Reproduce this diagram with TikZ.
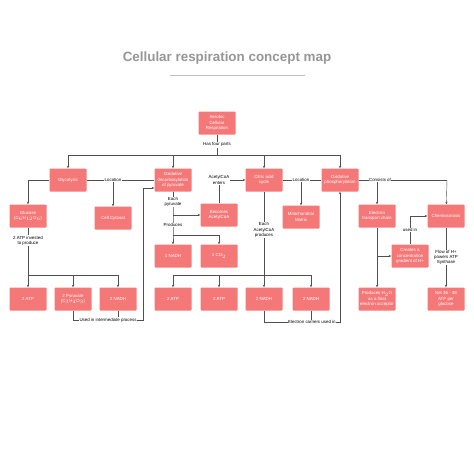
\documentclass[tikz,border=0pt]{standalone}
\usepackage{fontspec}
\setmainfont{Liberation Sans}
\usetikzlibrary{arrows.meta}
\definecolor{boxred}{RGB}{244,120,120}
\definecolor{linegray}{RGB}{80,80,80}
\definecolor{titlegray}{RGB}{150,150,150}
\tikzset{
  concept/.style={fill=boxred, text=white, minimum width=37pt, minimum height=23pt, inner sep=0.5pt,
    align=center, rounded corners=0.8pt, font=\fontsize{4.4}{5.2}\selectfont},
  lbl/.style={fill=white, inner sep=0.6pt, align=center, font=\fontsize{4.4}{5.2}\selectfont},
  link/.style={draw=linegray, line width=0.4pt},
  >={Stealth[length=2.6pt,width=2.2pt]}
}
\begin{document}
\begin{tikzpicture}[x=1pt,y=-1pt]
			\useasboundingbox (0,0) rectangle (474,474);
			\node[text=titlegray, font=\bfseries\fontsize{13.4}{15}\selectfont] (title) at (227,58) {Cellular respiration concept map};
			\draw[draw=titlegray!60, line width=0.6pt] (170,75) -- (305,75);
			\node[concept] (root) at (217,123) {Aerobic\\Cellular\\Respiration};
			\node[concept] (glyc) at (68,180) {Glycolysis};
			\node[concept] (oxd) at (173,180) {Oxidative\\decarboxylation\\of pyruvate};
			\node[concept] (cac) at (264,180) {Citric acid\\cycle};
			\node[concept] (oxp) at (340,180) {Oxidative\\phosphorylation};
			\node[concept] (gluc) at (28,216) {Glucose\\(C$_6$H$_{12}$O$_6$)};
			\node[concept] (cyto) at (113,218) {Cell Cytosol};
			\node[concept] (acoa) at (219,215) {Becomes\\AcetylCoA};
			\node[concept] (matrix) at (301,217) {Mitochondrial\\Matrix};
			\node[concept] (etc) at (377,216) {Electron\\transport chain};
			\node[concept] (chemi) at (446,216) {Chemiosmosis};
			\node[concept] (grad) at (410,256) {Creates a\\concentration\\gradient of H+};
			\node[concept] (r3nadh) at (173,256) {1 NADH};
			\node[concept] (r3co2) at (219,256) {1 CO$_2$};
			\node[concept] (gatp) at (28,299) {2 ATP};
			\node[concept] (gpyr) at (73,299) {2 Pyruvate\\(C$_3$H$_4$O$_3$)};
			\node[concept] (gnadh) at (118,299) {2 NADH};
			\node[concept] (r4atp1) at (173,299) {2 ATP};
			\node[concept] (r4atp2) at (219,299) {2 ATP};
			\node[concept] (r4nadh1) at (264,299) {2 NADH};
			\node[concept] (r4nadh2) at (311,299) {2 NADH};
			\node[concept] (h2o) at (377,299) {Produces H$_2$O\\as a final\\electron acceptor};
			\node[concept] (net) at (446,299) {Net 36 - 38\\ATP per\\glucose};
			\coordinate (bus) at (217,155);
			\draw[link] (root) -- node[lbl]{Has four parts} (bus);
			\draw[link,->] (bus) -| (glyc);
			\draw[link,->] (bus) -| (oxd);
			\draw[link,->] (bus) -| (cac);
			\draw[link,->] (bus) -| (oxp);
			\coordinate (loc1) at (113,180);
			\draw[link] (glyc) -- (oxd);
			\draw[link,->] (loc1) -- (cyto);
			\node[lbl] at (loc1) {Location};
			\draw[link,->] (glyc.west) -| (gluc);
			\coordinate (gbus) at (28,275);
			\draw[link] (gluc) -- node[lbl,pos=0.27]{2 ATP invested\\to produce} (gbus);
			\draw[link,->] (gbus) -- (gatp);
			\draw[link,->] (gbus) -| (gpyr);
			\draw[link,->] (gbus) -| (gnadh);
			\coordinate (uA) at (73,320);
			\coordinate (uB) at (143,320);
			\coordinate (uC) at (143,188);
			\draw[link] (gnadh) -- (gnadh |- uA);
			\draw[link,->] (gpyr) -- (uA) -- node[lbl]{Used in intermediate process} (uB) -- (uC) -- (uC -| oxd.west);
			\coordinate (ob) at (173,215);
			\coordinate (pb) at (173,235);
			\draw[link,->] (oxd) -- node[lbl,pos=0.45]{Each\\pyruvate} (ob) -- node[lbl]{Produces} (pb) -- (r3nadh);
			\draw[link,->] (ob) -- (acoa);
			\draw[link,->] (pb) -| (r3co2);
			\coordinate (ent) at (219,180);
			\draw[link,->] (acoa) -- (ent) -- (cac);
			\node[lbl] at (ent) {AcetylCoA\\enters};
			\coordinate (loc2) at (301,180);
			\draw[link] (cac) -- (oxp);
			\draw[link,->] (loc2) -- (matrix);
			\node[lbl] at (loc2) {Location};
			\coordinate (cb) at (264,275);
			\draw[link] (cac) -- node[lbl,pos=0.46]{Each\\AcetylCoA\\produces} (cb);
			\draw[link,->] (cb) -| (r4atp1);
			\draw[link,->] (cb) -| (r4atp2);
			\draw[link,->] (cb) -- (r4nadh1);
			\draw[link,->] (cb) -| (r4nadh2);
			\coordinate (eA) at (264,322);
			\coordinate (eB) at (340,322);
			\draw[link] (r4nadh2) -- (r4nadh2 |- eA);
			\draw[link,->] (r4nadh1) -- (eA) -- node[lbl,pos=0.63]{Electron carriers used in} (eB) -- (oxp);
			\coordinate (cj) at (377,180);
			\coordinate (cr) at (447,180);
			\draw[link] (oxp) -- (cr);
			\draw[link,->] (cj) -- (etc);
			\draw[link,->] (cr) -- (chemi);
			\node[lbl] at (380,180) {Consists of};
			\coordinate (eg) at (377,256);
			\draw[link,->] (etc) -- (h2o);
			\draw[link,->] (eg) -- (grad);
			\coordinate (gu) at (410,216);
			\draw[link,->] (grad) -- node[lbl]{used in} (gu) -- (chemi);
			\draw[link,->] (chemi) -- node[lbl]{Flow of H+\\powers ATP\\Synthase} (net);
		\end{tikzpicture}
\end{document}
